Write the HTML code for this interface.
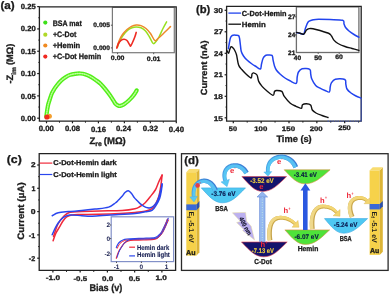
<!DOCTYPE html><html><head><meta charset="utf-8"><style>html,body{margin:0;padding:0;background:#fff;overflow:hidden}svg{display:block;will-change:transform}</style></head><body>
<svg width="390" height="295" viewBox="0 0 390 295" font-family="Liberation Sans, sans-serif" text-rendering="geometricPrecision">
<rect width="390" height="295" fill="#fff"/>
<rect x="112.4" y="7.4" width="61.9" height="45.3" fill="#fff" stroke="#7a7a7a" stroke-width="1.2"/>
<path d="M39.4,6.8 H176.2 V121.2 H39.4 Z" fill="none" stroke="#222" stroke-width="1.3"/>
<line x1="37.20" y1="6.60" x2="39.40" y2="6.60" stroke="#1c1c1c" stroke-width="1.2" />
<line x1="38.30" y1="17.76" x2="39.40" y2="17.76" stroke="#1c1c1c" stroke-width="0.9" />
<line x1="37.20" y1="28.92" x2="39.40" y2="28.92" stroke="#1c1c1c" stroke-width="1.2" />
<line x1="38.30" y1="40.08" x2="39.40" y2="40.08" stroke="#1c1c1c" stroke-width="0.9" />
<line x1="37.20" y1="51.24" x2="39.40" y2="51.24" stroke="#1c1c1c" stroke-width="1.2" />
<line x1="38.30" y1="62.40" x2="39.40" y2="62.40" stroke="#1c1c1c" stroke-width="0.9" />
<line x1="37.20" y1="73.56" x2="39.40" y2="73.56" stroke="#1c1c1c" stroke-width="1.2" />
<line x1="38.30" y1="84.72" x2="39.40" y2="84.72" stroke="#1c1c1c" stroke-width="0.9" />
<line x1="37.20" y1="95.88" x2="39.40" y2="95.88" stroke="#1c1c1c" stroke-width="1.2" />
<line x1="38.30" y1="107.04" x2="39.40" y2="107.04" stroke="#1c1c1c" stroke-width="0.9" />
<line x1="37.20" y1="118.20" x2="39.40" y2="118.20" stroke="#1c1c1c" stroke-width="1.2" />
<line x1="46.50" y1="121.20" x2="46.50" y2="123.30" stroke="#1c1c1c" stroke-width="1.2" />
<line x1="59.48" y1="121.20" x2="59.48" y2="122.70" stroke="#1c1c1c" stroke-width="1" />
<line x1="72.46" y1="121.20" x2="72.46" y2="123.30" stroke="#1c1c1c" stroke-width="1.2" />
<line x1="85.44" y1="121.20" x2="85.44" y2="122.70" stroke="#1c1c1c" stroke-width="1" />
<line x1="98.42" y1="121.20" x2="98.42" y2="123.30" stroke="#1c1c1c" stroke-width="1.2" />
<line x1="111.40" y1="121.20" x2="111.40" y2="122.70" stroke="#1c1c1c" stroke-width="1" />
<line x1="124.38" y1="121.20" x2="124.38" y2="123.30" stroke="#1c1c1c" stroke-width="1.2" />
<line x1="137.36" y1="121.20" x2="137.36" y2="122.70" stroke="#1c1c1c" stroke-width="1" />
<line x1="150.34" y1="121.20" x2="150.34" y2="123.30" stroke="#1c1c1c" stroke-width="1.2" />
<line x1="163.32" y1="121.20" x2="163.32" y2="122.70" stroke="#1c1c1c" stroke-width="1" />
<line x1="176.30" y1="121.20" x2="176.30" y2="123.30" stroke="#1c1c1c" stroke-width="1.2" />
<text x="0.43" y="9.18" font-size="11.00" font-weight="bold" font-style="normal" fill="#1a1a1a" stroke="#1a1a1a" stroke-width="0.3" textLength="14.34" lengthAdjust="spacingAndGlyphs" >(a)</text>
<text x="20.79" y="8.65" font-size="7.45" font-weight="bold" font-style="normal" fill="#1a1a1a" stroke="#1a1a1a" stroke-width="0.3" textLength="14.94" lengthAdjust="spacingAndGlyphs" >0.25</text>
<text x="20.79" y="31.49" font-size="7.45" font-weight="bold" font-style="normal" fill="#1a1a1a" stroke="#1a1a1a" stroke-width="0.3" textLength="14.93" lengthAdjust="spacingAndGlyphs" >0.20</text>
<text x="20.79" y="53.90" font-size="7.45" font-weight="bold" font-style="normal" fill="#1a1a1a" stroke="#1a1a1a" stroke-width="0.3" textLength="14.94" lengthAdjust="spacingAndGlyphs" >0.15</text>
<text x="20.79" y="76.22" font-size="7.45" font-weight="bold" font-style="normal" fill="#1a1a1a" stroke="#1a1a1a" stroke-width="0.3" textLength="14.93" lengthAdjust="spacingAndGlyphs" >0.10</text>
<text x="20.79" y="98.72" font-size="7.45" font-weight="bold" font-style="normal" fill="#1a1a1a" stroke="#1a1a1a" stroke-width="0.3" textLength="14.94" lengthAdjust="spacingAndGlyphs" >0.05</text>
<text x="20.79" y="120.86" font-size="7.45" font-weight="bold" font-style="normal" fill="#1a1a1a" stroke="#1a1a1a" stroke-width="0.3" textLength="14.93" lengthAdjust="spacingAndGlyphs" >0.00</text>
<text x="38.82" y="131.43" font-size="7.50" font-weight="bold" font-style="normal" fill="#1a1a1a" stroke="#1a1a1a" stroke-width="0.3" textLength="15.08" lengthAdjust="spacingAndGlyphs" >0.00</text>
<text x="64.99" y="131.46" font-size="7.50" font-weight="bold" font-style="normal" fill="#1a1a1a" stroke="#1a1a1a" stroke-width="0.3" textLength="15.00" lengthAdjust="spacingAndGlyphs" >0.08</text>
<text x="90.92" y="131.80" font-size="7.50" font-weight="bold" font-style="normal" fill="#1a1a1a" stroke="#1a1a1a" stroke-width="0.3" textLength="15.03" lengthAdjust="spacingAndGlyphs" >0.16</text>
<text x="115.99" y="131.37" font-size="7.50" font-weight="bold" font-style="normal" fill="#1a1a1a" stroke="#1a1a1a" stroke-width="0.3" textLength="15.06" lengthAdjust="spacingAndGlyphs" >0.24</text>
<text x="142.81" y="131.47" font-size="7.50" font-weight="bold" font-style="normal" fill="#1a1a1a" stroke="#1a1a1a" stroke-width="0.3" textLength="15.24" lengthAdjust="spacingAndGlyphs" >0.32</text>
<text x="168.88" y="131.83" font-size="7.50" font-weight="bold" font-style="normal" fill="#1a1a1a" stroke="#1a1a1a" stroke-width="0.3" textLength="15.11" lengthAdjust="spacingAndGlyphs" >0.40</text>
<text x="52.64" y="25.62" font-size="7.85" font-weight="bold" font-style="normal" fill="#1a1a1a" stroke="#1a1a1a" stroke-width="0.3" textLength="29.16" lengthAdjust="spacingAndGlyphs" >BSA mat</text>
<text x="52.91" y="36.62" font-size="7.85" font-weight="bold" font-style="normal" fill="#1a1a1a" stroke="#1a1a1a" stroke-width="0.3" textLength="23.54" lengthAdjust="spacingAndGlyphs" >+C-Dot</text>
<text x="52.70" y="48.11" font-size="7.85" font-weight="bold" font-style="normal" fill="#1a1a1a" stroke="#1a1a1a" stroke-width="0.3" textLength="27.56" lengthAdjust="spacingAndGlyphs" >+Hemin</text>
<text x="52.66" y="58.83" font-size="7.85" font-weight="bold" font-style="normal" fill="#1a1a1a" stroke="#1a1a1a" stroke-width="0.3" textLength="48.50" lengthAdjust="spacingAndGlyphs" >+C-Dot Hemin</text>
<text x="93.38" y="27.35" font-size="6.40" font-weight="bold" font-style="normal" fill="#222" stroke="#222" stroke-width="0.3" textLength="16.56" lengthAdjust="spacingAndGlyphs" >0.005</text>
<text x="93.38" y="49.81" font-size="6.40" font-weight="bold" font-style="normal" fill="#222" stroke="#222" stroke-width="0.3" textLength="16.58" lengthAdjust="spacingAndGlyphs" >0.000</text>
<text x="110.89" y="60.35" font-size="6.40" font-weight="bold" font-style="normal" fill="#1a1a1a" stroke="#1a1a1a" stroke-width="0.3" textLength="13.53" lengthAdjust="spacingAndGlyphs" >0.00</text>
<text x="146.89" y="60.55" font-size="6.40" font-weight="bold" font-style="normal" fill="#1a1a1a" stroke="#1a1a1a" stroke-width="0.3" textLength="13.61" lengthAdjust="spacingAndGlyphs" >0.01</text>
<text x="89.4" y="143.6" font-size="9.6" font-weight="bold" fill="#1c1c1c" stroke="#1c1c1c" stroke-width="0.3">Z<tspan font-size="6.8" dy="2.8">re</tspan><tspan dy="-2.8" dx="2.0">(MΩ)</tspan></text>
<text transform="translate(12.8,83.6) rotate(-90)" font-size="9.3" font-weight="bold" fill="#1c1c1c" stroke="#1c1c1c" stroke-width="0.3">-Z<tspan font-size="6.6" dy="2.8">im</tspan><tspan dy="-2.8" dx="2.0">(MΩ)</tspan></text>
<circle cx="45.3" cy="22.6" r="2.1" fill="#3ee01a"/>
<circle cx="45.3" cy="34.7" r="2.1" fill="#b0d828"/>
<circle cx="45.3" cy="45.5" r="2.1" fill="#f08a20"/>
<circle cx="45.3" cy="56.6" r="2.1" fill="#f02820"/>
<path d="M46.30,116.50 C46.45,115.42 46.88,112.00 47.20,110.00 C47.52,108.00 47.80,106.17 48.20,104.50 C48.60,102.83 49.00,101.83 49.60,100.00 C50.20,98.17 51.02,95.33 51.80,93.50 C52.58,91.67 53.40,90.42 54.30,89.00 C55.20,87.58 56.08,86.37 57.20,85.00 C58.32,83.63 59.62,82.08 61.00,80.80 C62.38,79.52 64.00,78.28 65.50,77.30 C67.00,76.32 68.42,75.48 70.00,74.90 C71.58,74.32 73.28,74.03 75.00,73.80 C76.72,73.57 78.55,73.40 80.30,73.50 C82.05,73.60 83.80,73.88 85.50,74.40 C87.20,74.92 88.78,75.65 90.50,76.60 C92.22,77.55 94.13,78.90 95.80,80.10 C97.47,81.30 98.88,82.25 100.50,83.80 C102.12,85.35 103.92,87.48 105.50,89.40 C107.08,91.32 108.67,93.43 110.00,95.30 C111.33,97.17 112.53,99.13 113.50,100.60 C114.47,102.07 114.93,103.22 115.80,104.10 C116.67,104.98 117.75,105.67 118.70,105.90 C119.65,106.13 120.48,105.85 121.50,105.50 C122.52,105.15 123.63,104.58 124.80,103.80 C125.97,103.02 127.37,101.82 128.50,100.80 C129.63,99.78 130.60,98.83 131.60,97.70 C132.60,96.57 133.65,95.22 134.50,94.00 C135.35,92.78 136.33,91.00 136.70,90.40" stroke="#52ee18" stroke-width="4.2" fill="none" stroke-linejoin="round" stroke-linecap="round" />
<path d="M46.30,116.50 C46.45,115.42 46.88,112.00 47.20,110.00 C47.52,108.00 47.80,106.17 48.20,104.50 C48.60,102.83 49.00,101.83 49.60,100.00 C50.20,98.17 51.02,95.33 51.80,93.50 C52.58,91.67 53.40,90.42 54.30,89.00 C55.20,87.58 56.08,86.37 57.20,85.00 C58.32,83.63 59.62,82.08 61.00,80.80 C62.38,79.52 64.00,78.28 65.50,77.30 C67.00,76.32 68.42,75.48 70.00,74.90 C71.58,74.32 73.28,74.03 75.00,73.80 C76.72,73.57 78.55,73.40 80.30,73.50 C82.05,73.60 83.80,73.88 85.50,74.40 C87.20,74.92 88.78,75.65 90.50,76.60 C92.22,77.55 94.13,78.90 95.80,80.10 C97.47,81.30 98.88,82.25 100.50,83.80 C102.12,85.35 103.92,87.48 105.50,89.40 C107.08,91.32 108.67,93.43 110.00,95.30 C111.33,97.17 112.53,99.13 113.50,100.60 C114.47,102.07 114.93,103.22 115.80,104.10 C116.67,104.98 117.75,105.67 118.70,105.90 C119.65,106.13 120.48,105.85 121.50,105.50 C122.52,105.15 123.63,104.58 124.80,103.80 C125.97,103.02 127.37,101.82 128.50,100.80 C129.63,99.78 130.60,98.83 131.60,97.70 C132.60,96.57 133.65,95.22 134.50,94.00 C135.35,92.78 136.33,91.00 136.70,90.40" stroke="#c0ffa0" stroke-width="1.4" fill="none" stroke-linejoin="round" stroke-linecap="round" stroke-dasharray="1.0,1.3"/>
<circle cx="49.4" cy="116.2" r="2.5" fill="#f4a030"/>
<circle cx="46.9" cy="117.0" r="2.6" fill="#ee2a1c"/>
<line x1="110.90" y1="25.20" x2="112.40" y2="25.20" stroke="#555" stroke-width="1" />
<line x1="110.90" y1="47.90" x2="112.40" y2="47.90" stroke="#555" stroke-width="1" />
<line x1="117.60" y1="52.70" x2="117.60" y2="54.20" stroke="#555" stroke-width="1" />
<line x1="153.70" y1="52.70" x2="153.70" y2="54.20" stroke="#555" stroke-width="1" />
<path d="M117.50,47.00 C117.83,46.08 118.58,43.42 119.50,41.50 C120.42,39.58 121.67,37.33 123.00,35.50 C124.33,33.67 126.00,31.78 127.50,30.50 C129.00,29.22 130.55,28.38 132.00,27.80 C133.45,27.22 134.70,27.00 136.20,27.00 C137.70,27.00 139.45,27.13 141.00,27.80 C142.55,28.47 144.08,29.47 145.50,31.00 C146.92,32.53 148.22,34.92 149.50,37.00 C150.78,39.08 152.12,42.75 153.20,43.50 C154.28,44.25 155.03,42.58 156.00,41.50 C156.97,40.42 157.83,39.17 159.00,37.00 C160.17,34.83 161.73,31.03 163.00,28.50 C164.27,25.97 166.00,22.92 166.60,21.80" stroke="#98e020" stroke-width="1.5" fill="none" stroke-linejoin="round" stroke-linecap="round" />
<path d="M117.00,47.50 C117.33,46.42 118.08,43.17 119.00,41.00 C119.92,38.83 121.17,36.42 122.50,34.50 C123.83,32.58 125.50,30.87 127.00,29.50 C128.50,28.13 129.97,27.05 131.50,26.30 C133.03,25.55 134.62,25.12 136.20,25.00 C137.78,24.88 139.37,25.02 141.00,25.60 C142.63,26.18 144.42,27.18 146.00,28.50 C147.58,29.82 149.03,31.50 150.50,33.50 C151.97,35.50 153.55,39.67 154.80,40.50 C156.05,41.33 156.63,39.58 158.00,38.50 C159.37,37.42 160.92,35.98 163.00,34.00 C165.08,32.02 169.25,27.83 170.50,26.60" stroke="#ec8a2a" stroke-width="1.5" fill="none" stroke-linejoin="round" stroke-linecap="round" />
<path d="M116.80,48.10 C117.08,47.33 117.80,44.80 118.50,43.50 C119.20,42.20 120.07,41.02 121.00,40.30 C121.93,39.58 123.10,39.17 124.10,39.20 C125.10,39.23 126.10,39.62 127.00,40.50 C127.90,41.38 128.90,43.58 129.50,44.50 C130.10,45.42 130.10,46.33 130.60,46.00 C131.10,45.67 131.80,44.00 132.50,42.50 C133.20,41.00 134.18,38.68 134.80,37.00 C135.42,35.32 135.97,33.17 136.20,32.40" stroke="#ee2a22" stroke-width="1.6" fill="none" stroke-linejoin="round" stroke-linecap="round" />
<rect x="296.4" y="6.9" width="62.5" height="45.6" fill="#fff" stroke="#6e6e6e" stroke-width="1.3"/>
<path d="M226.6,6.4 H361.2 V121.1 H226.6 Z" fill="none" stroke="#222" stroke-width="1.3"/>
<line x1="224.60" y1="10.30" x2="226.60" y2="10.30" stroke="#1c1c1c" stroke-width="1.2" />
<line x1="225.50" y1="21.05" x2="226.60" y2="21.05" stroke="#1c1c1c" stroke-width="0.9" />
<line x1="224.60" y1="31.80" x2="226.60" y2="31.80" stroke="#1c1c1c" stroke-width="1.2" />
<line x1="225.50" y1="42.55" x2="226.60" y2="42.55" stroke="#1c1c1c" stroke-width="0.9" />
<line x1="224.60" y1="53.30" x2="226.60" y2="53.30" stroke="#1c1c1c" stroke-width="1.2" />
<line x1="225.50" y1="64.05" x2="226.60" y2="64.05" stroke="#1c1c1c" stroke-width="0.9" />
<line x1="224.60" y1="74.80" x2="226.60" y2="74.80" stroke="#1c1c1c" stroke-width="1.2" />
<line x1="225.50" y1="85.55" x2="226.60" y2="85.55" stroke="#1c1c1c" stroke-width="0.9" />
<line x1="224.60" y1="96.30" x2="226.60" y2="96.30" stroke="#1c1c1c" stroke-width="1.2" />
<line x1="225.50" y1="107.05" x2="226.60" y2="107.05" stroke="#1c1c1c" stroke-width="0.9" />
<line x1="224.60" y1="117.80" x2="226.60" y2="117.80" stroke="#1c1c1c" stroke-width="1.2" />
<line x1="233.30" y1="121.10" x2="233.30" y2="123.20" stroke="#1c1c1c" stroke-width="1.2" />
<line x1="247.20" y1="121.10" x2="247.20" y2="122.60" stroke="#1c1c1c" stroke-width="1" />
<line x1="261.15" y1="121.10" x2="261.15" y2="123.20" stroke="#1c1c1c" stroke-width="1.2" />
<line x1="275.05" y1="121.10" x2="275.05" y2="122.60" stroke="#1c1c1c" stroke-width="1" />
<line x1="289.00" y1="121.10" x2="289.00" y2="123.20" stroke="#1c1c1c" stroke-width="1.2" />
<line x1="302.90" y1="121.10" x2="302.90" y2="122.60" stroke="#1c1c1c" stroke-width="1" />
<line x1="316.85" y1="121.10" x2="316.85" y2="123.20" stroke="#1c1c1c" stroke-width="1.2" />
<line x1="330.75" y1="121.10" x2="330.75" y2="122.60" stroke="#1c1c1c" stroke-width="1" />
<line x1="344.70" y1="121.10" x2="344.70" y2="123.20" stroke="#1c1c1c" stroke-width="1.2" />
<line x1="358.60" y1="121.10" x2="358.60" y2="122.60" stroke="#1c1c1c" stroke-width="1" />
<text x="195.98" y="13.27" font-size="11.00" font-weight="bold" font-style="normal" fill="#1a1a1a" stroke="#1a1a1a" stroke-width="0.3" textLength="14.35" lengthAdjust="spacingAndGlyphs" >(b)</text>
<text x="213.81" y="13.05" font-size="7.10" font-weight="bold" font-style="normal" fill="#1a1a1a" stroke="#1a1a1a" stroke-width="0.3" textLength="9.14" lengthAdjust="spacingAndGlyphs" >30</text>
<text x="213.99" y="34.25" font-size="7.10" font-weight="bold" font-style="normal" fill="#1a1a1a" stroke="#1a1a1a" stroke-width="0.3" textLength="9.00" lengthAdjust="spacingAndGlyphs" >27</text>
<text x="214.07" y="55.82" font-size="7.10" font-weight="bold" font-style="normal" fill="#1a1a1a" stroke="#1a1a1a" stroke-width="0.3" textLength="8.65" lengthAdjust="spacingAndGlyphs" >24</text>
<text x="214.11" y="77.23" font-size="7.10" font-weight="bold" font-style="normal" fill="#1a1a1a" stroke="#1a1a1a" stroke-width="0.3" textLength="8.76" lengthAdjust="spacingAndGlyphs" >21</text>
<text x="213.73" y="98.77" font-size="7.10" font-weight="bold" font-style="normal" fill="#1a1a1a" stroke="#1a1a1a" stroke-width="0.3" textLength="9.18" lengthAdjust="spacingAndGlyphs" >18</text>
<text x="213.73" y="120.53" font-size="7.10" font-weight="bold" font-style="normal" fill="#1a1a1a" stroke="#1a1a1a" stroke-width="0.3" textLength="9.16" lengthAdjust="spacingAndGlyphs" >15</text>
<text x="228.85" y="130.83" font-size="6.60" font-weight="bold" font-style="normal" fill="#1a1a1a" stroke="#1a1a1a" stroke-width="0.3" textLength="8.20" lengthAdjust="spacingAndGlyphs" >50</text>
<text x="254.19" y="130.77" font-size="6.60" font-weight="bold" font-style="normal" fill="#1a1a1a" stroke="#1a1a1a" stroke-width="0.3" textLength="13.05" lengthAdjust="spacingAndGlyphs" >100</text>
<text x="281.86" y="130.55" font-size="6.60" font-weight="bold" font-style="normal" fill="#1a1a1a" stroke="#1a1a1a" stroke-width="0.3" textLength="13.20" lengthAdjust="spacingAndGlyphs" >150</text>
<text x="309.68" y="130.55" font-size="6.60" font-weight="bold" font-style="normal" fill="#1a1a1a" stroke="#1a1a1a" stroke-width="0.3" textLength="12.99" lengthAdjust="spacingAndGlyphs" >200</text>
<text x="338.20" y="130.44" font-size="6.60" font-weight="bold" font-style="normal" fill="#1a1a1a" stroke="#1a1a1a" stroke-width="0.3" textLength="12.67" lengthAdjust="spacingAndGlyphs" >250</text>
<text x="241.84" y="15.79" font-size="7.40" font-weight="bold" font-style="normal" fill="#1a1a1a" stroke="#1a1a1a" stroke-width="0.3" textLength="44.73" lengthAdjust="spacingAndGlyphs" >C-Dot-Hemin</text>
<text x="241.78" y="26.65" font-size="7.40" font-weight="bold" font-style="normal" fill="#1a1a1a" stroke="#1a1a1a" stroke-width="0.3" textLength="23.97" lengthAdjust="spacingAndGlyphs" >Hemin</text>
<text x="288.09" y="19.21" font-size="6.40" font-weight="bold" font-style="normal" fill="#1a1a1a" stroke="#1a1a1a" stroke-width="0.3" textLength="7.47" lengthAdjust="spacingAndGlyphs" >27</text>
<text x="288.11" y="37.33" font-size="6.40" font-weight="bold" font-style="normal" fill="#1a1a1a" stroke="#1a1a1a" stroke-width="0.3" textLength="7.09" lengthAdjust="spacingAndGlyphs" >24</text>
<text x="288.09" y="54.55" font-size="6.40" font-weight="bold" font-style="normal" fill="#1a1a1a" stroke="#1a1a1a" stroke-width="0.3" textLength="7.20" lengthAdjust="spacingAndGlyphs" >21</text>
<text x="293.86" y="59.64" font-size="6.40" font-weight="bold" font-style="normal" fill="#1a1a1a" stroke="#1a1a1a" stroke-width="0.3" textLength="7.31" lengthAdjust="spacingAndGlyphs" >40</text>
<text x="314.19" y="59.86" font-size="6.40" font-weight="bold" font-style="normal" fill="#1a1a1a" stroke="#1a1a1a" stroke-width="0.3" textLength="7.86" lengthAdjust="spacingAndGlyphs" >50</text>
<text x="335.25" y="59.43" font-size="6.40" font-weight="bold" font-style="normal" fill="#1a1a1a" stroke="#1a1a1a" stroke-width="0.3" textLength="7.62" lengthAdjust="spacingAndGlyphs" >60</text>
<text x="276.4" y="142.3" font-size="9.3" font-weight="bold" fill="#1c1c1c" stroke="#1c1c1c" stroke-width="0.3" textLength="35.3" lengthAdjust="spacingAndGlyphs">Time (s)</text>
<text transform="translate(207.4,95.3) rotate(-90)" font-size="8.9" font-weight="bold" fill="#1c1c1c" stroke="#1c1c1c" stroke-width="0.3" textLength="54.8" lengthAdjust="spacingAndGlyphs">Current (nA)</text>
<line x1="228.40" y1="13.10" x2="241.00" y2="13.10" stroke="#2244ee" stroke-width="1.3" />
<line x1="228.40" y1="24.20" x2="241.00" y2="24.20" stroke="#111" stroke-width="1.3" />
<path d="M228.40,48.70 C228.58,47.58 229.17,43.80 229.50,42.00 C229.83,40.20 230.05,38.90 230.40,37.90 C230.75,36.90 231.15,36.45 231.60,36.00 C232.05,35.55 232.37,35.33 233.10,35.20 C233.83,35.07 235.08,35.13 236.00,35.20 C236.92,35.27 238.00,35.03 238.60,35.60 C239.20,36.17 239.30,37.03 239.60,38.60 C239.90,40.17 240.12,42.85 240.40,45.00 C240.68,47.15 240.78,49.67 241.30,51.50 C241.82,53.33 242.55,54.58 243.50,56.00 C244.45,57.42 245.58,58.67 247.00,60.00 C248.42,61.33 250.50,62.92 252.00,64.00 C253.50,65.08 254.60,65.67 256.00,66.50 C257.40,67.33 259.48,69.42 260.40,69.00 C261.32,68.58 261.07,65.75 261.50,64.00 C261.93,62.25 262.42,59.87 263.00,58.50 C263.58,57.13 264.30,56.37 265.00,55.80 C265.70,55.23 266.03,55.17 267.20,55.10 C268.37,55.03 271.02,54.55 272.00,55.40 C272.98,56.25 272.68,58.43 273.10,60.20 C273.52,61.97 273.93,64.32 274.50,66.00 C275.07,67.68 275.58,68.97 276.50,70.30 C277.42,71.63 278.58,72.72 280.00,74.00 C281.42,75.28 283.33,76.87 285.00,78.00 C286.67,79.13 288.13,79.90 290.00,80.80 C291.87,81.70 295.00,84.03 296.20,83.40 C297.40,82.77 296.82,78.90 297.20,77.00 C297.58,75.10 297.68,73.37 298.50,72.00 C299.32,70.63 300.23,69.25 302.10,68.80 C303.97,68.35 308.27,68.43 309.70,69.30 C311.13,70.17 310.35,72.38 310.70,74.00 C311.05,75.62 310.97,77.08 311.80,79.00 C312.63,80.92 314.33,83.97 315.70,85.50 C317.07,87.03 318.45,87.37 320.00,88.20 C321.55,89.03 323.43,89.87 325.00,90.50 C326.57,91.13 328.53,92.58 329.40,92.00 C330.27,91.42 329.87,88.53 330.20,87.00 C330.53,85.47 330.55,84.10 331.40,82.80 C332.25,81.50 333.07,79.75 335.30,79.20 C337.53,78.65 343.05,78.70 344.80,79.50 C346.55,80.30 345.43,82.42 345.80,84.00 C346.17,85.58 346.13,87.50 347.00,89.00 C347.87,90.50 349.50,91.83 351.00,93.00 C352.50,94.17 354.37,95.17 356.00,96.00 C357.63,96.83 360.00,97.67 360.80,98.00" stroke="#2244ee" stroke-width="1.5" fill="none" stroke-linejoin="round" stroke-linecap="round" />
<path d="M226.60,50.00 C226.92,50.55 228.00,53.30 228.50,53.30 C229.00,53.30 229.17,51.10 229.60,50.00 C230.03,48.90 230.53,47.03 231.10,46.70 C231.67,46.37 232.43,47.45 233.00,48.00 C233.57,48.55 233.92,48.87 234.50,50.00 C235.08,51.13 235.82,52.30 236.50,54.80 C237.18,57.30 237.72,62.55 238.60,65.00 C239.48,67.45 240.57,68.00 241.80,69.50 C243.03,71.00 244.45,72.58 246.00,74.00 C247.55,75.42 250.10,78.00 251.10,78.00 C252.10,78.00 251.58,74.85 252.00,74.00 C252.42,73.15 252.77,72.73 253.60,72.90 C254.43,73.07 256.15,73.58 257.00,75.00 C257.85,76.42 257.85,79.50 258.70,81.40 C259.55,83.30 260.72,84.80 262.10,86.40 C263.48,88.00 265.17,89.50 267.00,91.00 C268.83,92.50 271.85,95.32 273.10,95.40 C274.35,95.48 273.93,92.32 274.50,91.50 C275.07,90.68 275.28,90.52 276.50,90.50 C277.72,90.48 280.50,90.42 281.80,91.40 C283.10,92.38 282.88,94.43 284.30,96.40 C285.72,98.37 288.35,101.55 290.30,103.20 C292.25,104.85 294.17,105.45 296.00,106.30 C297.83,107.15 300.22,108.55 301.30,108.30 C302.38,108.05 301.65,105.57 302.50,104.80 C303.35,104.03 305.05,103.68 306.40,103.70 C307.75,103.72 309.62,103.85 310.60,104.90 C311.58,105.95 311.40,108.65 312.30,110.00 C313.20,111.35 314.38,112.08 316.00,113.00 C317.62,113.92 320.00,114.75 322.00,115.50 C324.00,116.25 327.00,117.17 328.00,117.50" stroke="#111" stroke-width="1.4" fill="none" stroke-linejoin="round" stroke-linecap="round" />
<line x1="361.20" y1="98.00" x2="361.20" y2="121.10" stroke="#3a58e0" stroke-width="0.9" opacity="0.8"/>
<line x1="327.50" y1="121.10" x2="361.20" y2="121.10" stroke="#3a58e0" stroke-width="0.9" stroke-dasharray="1.5,1" opacity="0.8"/>
<line x1="295.00" y1="16.80" x2="296.40" y2="16.80" stroke="#555" stroke-width="1" />
<line x1="295.00" y1="34.80" x2="296.40" y2="34.80" stroke="#555" stroke-width="1" />
<line x1="318.20" y1="52.50" x2="318.20" y2="53.90" stroke="#555" stroke-width="1" />
<line x1="339.20" y1="52.50" x2="339.20" y2="53.90" stroke="#555" stroke-width="1" />
<path d="M296.50,32.40 C297.08,32.53 298.80,32.92 300.00,33.20 C301.20,33.48 302.78,34.97 303.70,34.10 C304.62,33.23 304.77,30.02 305.50,28.00 C306.23,25.98 307.10,23.30 308.10,22.00 C309.10,20.70 310.22,20.63 311.50,20.20 C312.78,19.77 312.72,19.50 315.80,19.40 C318.88,19.30 325.52,19.45 330.00,19.60 C334.48,19.75 340.37,19.57 342.70,20.30 C345.03,21.03 343.52,22.80 344.00,24.00 C344.48,25.20 344.77,26.33 345.60,27.50 C346.43,28.67 347.60,29.83 349.00,31.00 C350.40,32.17 352.35,33.47 354.00,34.50 C355.65,35.53 358.08,36.75 358.90,37.20" stroke="#2244ee" stroke-width="1.5" fill="none" stroke-linejoin="round" stroke-linecap="round" />
<path d="M296.50,32.40 C297.08,32.53 298.80,32.92 300.00,33.20 C301.20,33.48 302.62,34.63 303.70,34.10 C304.78,33.57 305.58,30.92 306.50,30.00 C307.42,29.08 308.12,28.82 309.20,28.60 C310.28,28.38 311.20,28.38 313.00,28.70 C314.80,29.02 317.33,29.70 320.00,30.50 C322.67,31.30 327.08,32.58 329.00,33.50 C330.92,34.42 330.68,34.90 331.50,36.00 C332.32,37.10 332.82,38.85 333.90,40.10 C334.98,41.35 336.15,42.43 338.00,43.50 C339.85,44.57 342.67,45.67 345.00,46.50 C347.33,47.33 349.68,47.85 352.00,48.50 C354.32,49.15 357.75,50.08 358.90,50.40" stroke="#111" stroke-width="1.4" fill="none" stroke-linejoin="round" stroke-linecap="round" />
<rect x="111.2" y="216.8" width="62.4" height="44.8" fill="#fff" stroke="#8290c8" stroke-width="1.2"/>
<path d="M39.2,153.7 H175.6 V270.4 H39.2 Z" fill="none" stroke="#222" stroke-width="1.3"/>
<line x1="37.20" y1="165.00" x2="39.20" y2="165.00" stroke="#1c1c1c" stroke-width="1.2" />
<line x1="38.10" y1="176.65" x2="39.20" y2="176.65" stroke="#1c1c1c" stroke-width="0.9" />
<line x1="37.20" y1="188.30" x2="39.20" y2="188.30" stroke="#1c1c1c" stroke-width="1.2" />
<line x1="38.10" y1="199.95" x2="39.20" y2="199.95" stroke="#1c1c1c" stroke-width="0.9" />
<line x1="37.20" y1="211.60" x2="39.20" y2="211.60" stroke="#1c1c1c" stroke-width="1.2" />
<line x1="38.10" y1="223.25" x2="39.20" y2="223.25" stroke="#1c1c1c" stroke-width="0.9" />
<line x1="37.20" y1="234.90" x2="39.20" y2="234.90" stroke="#1c1c1c" stroke-width="1.2" />
<line x1="38.10" y1="246.55" x2="39.20" y2="246.55" stroke="#1c1c1c" stroke-width="0.9" />
<line x1="37.20" y1="258.20" x2="39.20" y2="258.20" stroke="#1c1c1c" stroke-width="1.2" />
<line x1="52.90" y1="270.40" x2="52.90" y2="272.50" stroke="#1c1c1c" stroke-width="1.2" />
<line x1="66.50" y1="270.40" x2="66.50" y2="271.90" stroke="#1c1c1c" stroke-width="1" />
<line x1="80.15" y1="270.40" x2="80.15" y2="272.50" stroke="#1c1c1c" stroke-width="1.2" />
<line x1="93.75" y1="270.40" x2="93.75" y2="271.90" stroke="#1c1c1c" stroke-width="1" />
<line x1="107.40" y1="270.40" x2="107.40" y2="272.50" stroke="#1c1c1c" stroke-width="1.2" />
<line x1="121.00" y1="270.40" x2="121.00" y2="271.90" stroke="#1c1c1c" stroke-width="1" />
<line x1="134.65" y1="270.40" x2="134.65" y2="272.50" stroke="#1c1c1c" stroke-width="1.2" />
<line x1="148.25" y1="270.40" x2="148.25" y2="271.90" stroke="#1c1c1c" stroke-width="1" />
<line x1="161.90" y1="270.40" x2="161.90" y2="272.50" stroke="#1c1c1c" stroke-width="1.2" />
<text x="6.81" y="162.61" font-size="11.00" font-weight="bold" font-style="normal" fill="#1a1a1a" stroke="#1a1a1a" stroke-width="0.3" textLength="14.98" lengthAdjust="spacingAndGlyphs" >(c)</text>
<text x="30.93" y="167.35" font-size="7.10" font-weight="bold" font-style="normal" fill="#1a1a1a" stroke="#1a1a1a" stroke-width="0.3" textLength="4.59" lengthAdjust="spacingAndGlyphs" >2</text>
<text x="31.59" y="190.57" font-size="7.10" font-weight="bold" font-style="normal" fill="#1a1a1a" stroke="#1a1a1a" stroke-width="0.3" textLength="3.94" lengthAdjust="spacingAndGlyphs" >1</text>
<text x="30.83" y="213.54" font-size="7.10" font-weight="bold" font-style="normal" fill="#1a1a1a" stroke="#1a1a1a" stroke-width="0.3" textLength="4.77" lengthAdjust="spacingAndGlyphs" >0</text>
<text x="28.83" y="238.38" font-size="7.10" font-weight="bold" font-style="normal" fill="#1a1a1a" stroke="#1a1a1a" stroke-width="0.3" textLength="6.37" lengthAdjust="spacingAndGlyphs" >-1</text>
<text x="28.83" y="260.75" font-size="7.10" font-weight="bold" font-style="normal" fill="#1a1a1a" stroke="#1a1a1a" stroke-width="0.3" textLength="6.41" lengthAdjust="spacingAndGlyphs" >-2</text>
<text x="45.78" y="280.39" font-size="6.70" font-weight="bold" font-style="normal" fill="#1a1a1a" stroke="#1a1a1a" stroke-width="0.3" textLength="14.29" lengthAdjust="spacingAndGlyphs" >-1.0</text>
<text x="73.42" y="280.86" font-size="6.70" font-weight="bold" font-style="normal" fill="#1a1a1a" stroke="#1a1a1a" stroke-width="0.3" textLength="13.64" lengthAdjust="spacingAndGlyphs" >-0.5</text>
<text x="101.98" y="280.77" font-size="6.70" font-weight="bold" font-style="normal" fill="#1a1a1a" stroke="#1a1a1a" stroke-width="0.3" textLength="11.13" lengthAdjust="spacingAndGlyphs" >0.0</text>
<text x="128.85" y="280.66" font-size="6.70" font-weight="bold" font-style="normal" fill="#1a1a1a" stroke="#1a1a1a" stroke-width="0.3" textLength="11.19" lengthAdjust="spacingAndGlyphs" >0.5</text>
<text x="155.50" y="280.38" font-size="6.70" font-weight="bold" font-style="normal" fill="#1a1a1a" stroke="#1a1a1a" stroke-width="0.3" textLength="11.42" lengthAdjust="spacingAndGlyphs" >1.0</text>
<text x="53.34" y="165.31" font-size="7.10" font-weight="bold" font-style="normal" fill="#1a1a1a" stroke="#1a1a1a" stroke-width="0.3" textLength="63.45" lengthAdjust="spacingAndGlyphs" >C-Dot-Hemin dark</text>
<text x="53.34" y="177.27" font-size="7.10" font-weight="bold" font-style="normal" fill="#1a1a1a" stroke="#1a1a1a" stroke-width="0.3" textLength="63.51" lengthAdjust="spacingAndGlyphs" >C-Dot-Hemin light</text>
<text x="137.10" y="249.74" font-size="7.00" font-weight="bold" font-style="normal" fill="#141c50" stroke="#141c50" stroke-width="0.12" textLength="32.07" lengthAdjust="spacingAndGlyphs" >Hemin dark</text>
<text x="137.09" y="257.48" font-size="7.00" font-weight="bold" font-style="normal" fill="#141c50" stroke="#141c50" stroke-width="0.12" textLength="32.81" lengthAdjust="spacingAndGlyphs" >Hemin light</text>
<text x="89.4" y="291.0" font-size="9.9" font-weight="bold" fill="#1c1c1c" stroke="#1c1c1c" stroke-width="0.3" textLength="33" lengthAdjust="spacingAndGlyphs">Bias (v)</text>
<text transform="translate(23.5,239.8) rotate(-90)" font-size="9.3" font-weight="bold" fill="#1c1c1c" stroke="#1c1c1c" stroke-width="0.3" textLength="57.7" lengthAdjust="spacingAndGlyphs">Current (μA)</text>
<line x1="39.80" y1="163.10" x2="52.30" y2="163.10" stroke="#f02a3a" stroke-width="1.2" />
<line x1="39.80" y1="174.50" x2="52.30" y2="174.50" stroke="#2a46ee" stroke-width="1.2" />
<path d="M53.10,240.80 C53.58,239.50 54.87,235.40 56.00,233.00 C57.13,230.60 58.73,228.40 59.90,226.40 C61.07,224.40 61.88,222.57 63.00,221.00 C64.12,219.43 65.15,218.00 66.60,217.00 C68.05,216.00 69.47,215.42 71.70,215.00 C73.93,214.58 75.62,214.63 80.00,214.50 C84.38,214.37 91.33,214.38 98.00,214.20 C104.67,214.02 113.83,213.70 120.00,213.40 C126.17,213.10 130.83,212.77 135.00,212.40 C139.17,212.03 142.17,211.82 145.00,211.20 C147.83,210.58 150.17,210.07 152.00,208.70 C153.83,207.33 154.88,204.98 156.00,203.00 C157.12,201.02 157.90,199.63 158.70,196.80 C159.50,193.97 160.23,189.62 160.80,186.00 C161.37,182.38 161.88,176.92 162.10,175.10" stroke="#f0283a" stroke-width="1.5" fill="none" stroke-linejoin="round" stroke-linecap="round" />
<path d="M162.10,175.10 C161.50,176.33 159.63,180.02 158.50,182.50 C157.37,184.98 156.72,187.58 155.30,190.00 C153.88,192.42 151.68,194.88 150.00,197.00 C148.32,199.12 146.87,201.12 145.20,202.70 C143.53,204.28 141.70,205.50 140.00,206.50 C138.30,207.50 137.98,208.03 135.00,208.70 C132.02,209.37 127.93,210.12 122.10,210.50 C116.27,210.88 106.70,210.82 100.00,211.00 C93.30,211.18 86.90,211.40 81.90,211.60 C76.90,211.80 72.98,211.47 70.00,212.20 C67.02,212.93 66.00,214.03 64.00,216.00 C62.00,217.97 59.75,220.58 58.00,224.00 C56.25,227.42 54.25,234.42 53.50,236.50" stroke="#f0283a" stroke-width="1.5" fill="none" stroke-linejoin="round" stroke-linecap="round" />
<path d="M52.20,234.80 C52.67,233.75 54.00,230.47 55.00,228.50 C56.00,226.53 57.20,224.50 58.20,223.00 C59.20,221.50 60.02,220.50 61.00,219.50 C61.98,218.50 62.60,217.75 64.10,217.00 C65.60,216.25 67.03,215.22 70.00,215.00 C72.97,214.78 78.22,215.50 81.90,215.70 C85.58,215.90 87.42,216.32 92.10,216.20 C96.78,216.08 102.85,215.47 110.00,215.00 C117.15,214.53 129.17,213.93 135.00,213.40 C140.83,212.87 142.17,212.30 145.00,211.80 C147.83,211.30 150.08,211.62 152.00,210.40 C153.92,209.18 155.23,206.48 156.50,204.50 C157.77,202.52 158.80,200.75 159.60,198.50 C160.40,196.25 160.88,193.40 161.30,191.00 C161.72,188.60 161.97,185.25 162.10,184.10" stroke="#2a46ee" stroke-width="1.5" fill="none" stroke-linejoin="round" stroke-linecap="round" />
<path d="M162.10,184.10 C161.75,185.67 160.85,190.53 160.00,193.50 C159.15,196.47 158.08,199.82 157.00,201.90 C155.92,203.98 154.62,205.02 153.50,206.00 C152.38,206.98 151.27,207.50 150.30,207.80 C149.33,208.10 148.75,208.05 147.70,207.80 C146.65,207.55 145.27,207.00 144.00,206.30 C142.73,205.60 141.27,204.57 140.10,203.60 C138.93,202.63 137.97,201.50 137.00,200.50 C136.03,199.50 135.22,198.77 134.30,197.60 C133.38,196.43 132.52,194.63 131.50,193.50 C130.48,192.37 129.28,190.97 128.20,190.80 C127.12,190.63 126.02,191.58 125.00,192.50 C123.98,193.42 123.18,195.05 122.10,196.30 C121.02,197.55 119.63,198.88 118.50,200.00 C117.37,201.12 116.95,201.82 115.30,203.00 C113.65,204.18 111.98,206.08 108.60,207.10 C105.22,208.12 99.45,208.52 95.00,209.10 C90.55,209.68 86.35,210.18 81.90,210.60 C77.45,211.02 72.25,211.23 68.30,211.60 C64.35,211.97 60.88,212.12 58.20,212.80 C55.52,213.48 53.20,215.22 52.20,215.70" stroke="#2a46ee" stroke-width="1.5" fill="none" stroke-linejoin="round" stroke-linecap="round" />
<line x1="109.80" y1="225.00" x2="111.20" y2="225.00" stroke="#555" stroke-width="1" />
<line x1="109.80" y1="238.60" x2="111.20" y2="238.60" stroke="#555" stroke-width="1" />
<line x1="109.80" y1="254.00" x2="111.20" y2="254.00" stroke="#555" stroke-width="1" />
<line x1="116.50" y1="261.60" x2="116.50" y2="263.00" stroke="#555" stroke-width="1" />
<line x1="141.40" y1="261.60" x2="141.40" y2="263.00" stroke="#555" stroke-width="1" />
<line x1="166.50" y1="261.60" x2="166.50" y2="263.00" stroke="#555" stroke-width="1" />
<text x="106.6" y="227.4" font-size="6.4" font-weight="bold" fill="#1a2050">2</text>
<text x="106.6" y="241" font-size="6.4" font-weight="bold" fill="#1a2050">0</text>
<text x="104.4" y="256.4" font-size="6.4" font-weight="bold" fill="#1a2050">-2</text>
<text x="116.5" y="269" font-size="6.4" font-weight="bold" fill="#1a2050" text-anchor="middle">-1</text>
<text x="141.4" y="269" font-size="6.4" font-weight="bold" fill="#1a2050" text-anchor="middle">0</text>
<text x="166.5" y="269" font-size="6.4" font-weight="bold" fill="#1a2050" text-anchor="middle">1</text>
<path d="M116.30,247.50 C116.58,246.92 117.38,244.97 118.00,244.00 C118.62,243.03 119.17,242.37 120.00,241.70 C120.83,241.03 121.88,240.42 123.00,240.00 C124.12,239.58 124.70,239.43 126.70,239.20 C128.70,238.97 132.23,238.75 135.00,238.60 C137.77,238.45 139.97,238.48 143.30,238.30 C146.63,238.12 152.38,238.05 155.00,237.50 C157.62,236.95 157.88,235.97 159.00,235.00 C160.12,234.03 160.78,233.20 161.70,231.70 C162.62,230.20 163.53,228.08 164.50,226.00 C165.47,223.92 167.00,220.33 167.50,219.20" stroke="#2a46ee" stroke-width="1.2" fill="none" stroke-linejoin="round" stroke-linecap="round" />
<path d="M116.30,258.30 C116.67,257.25 117.60,253.93 118.50,252.00 C119.40,250.07 120.70,248.20 121.70,246.70 C122.70,245.20 123.40,243.98 124.50,243.00 C125.60,242.02 126.55,241.27 128.30,240.80 C130.05,240.33 132.50,240.33 135.00,240.20 C137.50,240.07 139.97,240.17 143.30,240.00 C146.63,239.83 152.22,239.95 155.00,239.20 C157.78,238.45 158.62,237.03 160.00,235.50 C161.38,233.97 162.38,231.75 163.30,230.00 C164.22,228.25 164.80,226.80 165.50,225.00 C166.20,223.20 167.17,220.17 167.50,219.20" stroke="#f0283a" stroke-width="1.2" fill="none" stroke-linejoin="round" stroke-linecap="round" />
<path d="M117.30,248.30 C117.58,247.72 118.38,245.77 119.00,244.80 C119.62,243.83 120.17,243.17 121.00,242.50 C121.83,241.83 122.88,241.22 124.00,240.80 C125.12,240.38 125.70,240.23 127.70,240.00 C129.70,239.77 133.23,239.55 136.00,239.40 C138.77,239.25 140.97,239.28 144.30,239.10 C147.63,238.92 153.38,238.85 156.00,238.30 C158.62,237.75 158.88,236.77 160.00,235.80 C161.12,234.83 161.78,234.00 162.70,232.50 C163.62,231.00 164.53,228.88 165.50,226.80 C166.47,224.72 168.00,221.13 168.50,220.00" stroke="#f0283a" stroke-width="1.0" fill="none" stroke-linejoin="round" stroke-linecap="round" />
<path d="M117.10,257.30 C117.47,256.25 118.40,252.93 119.30,251.00 C120.20,249.07 121.50,247.20 122.50,245.70 C123.50,244.20 124.20,242.98 125.30,242.00 C126.40,241.02 127.35,240.27 129.10,239.80 C130.85,239.33 133.30,239.33 135.80,239.20 C138.30,239.07 140.77,239.17 144.10,239.00 C147.43,238.83 153.02,238.95 155.80,238.20 C158.58,237.45 159.42,236.03 160.80,234.50 C162.18,232.97 163.18,230.75 164.10,229.00 C165.02,227.25 165.60,225.80 166.30,224.00 C167.00,222.20 167.97,219.17 168.30,218.20" stroke="#2a46ee" stroke-width="1.0" fill="none" stroke-linejoin="round" stroke-linecap="round" />
<line x1="129.20" y1="247.20" x2="135.00" y2="247.20" stroke="#f0283a" stroke-width="1.2" />
<line x1="129.20" y1="255.90" x2="135.00" y2="255.90" stroke="#2a46ee" stroke-width="1.2" />
<rect x="181.5" y="153.7" width="206.6" height="116.7" fill="#fff" stroke="#2a2a2a" stroke-width="1.3"/>
<text x="184.30" y="163.71" font-size="11.00" font-weight="bold" font-style="normal" fill="#1a1a1a" stroke="#1a1a1a" stroke-width="0.3" textLength="14.65" lengthAdjust="spacingAndGlyphs" >(d)</text>
<rect x="186.3" y="172.2" width="10.299999999999983" height="83.4" fill="#f6d24a"/>
<polygon points="196.6,172.2 199.4,168.89999999999998 199.4,252.29999999999998 196.6,255.6" fill="#dcb436"/>
<polygon points="186.3,172.2 189.10000000000002,168.89999999999998 199.4,168.89999999999998 196.6,172.2" fill="#f8dc70"/>
<rect x="186.3" y="204.4" width="10.299999999999983" height="5.799999999999983" fill="#3a68d8"/>
<polygon points="196.6,204.4 199.4,201.1 199.4,206.89999999999998 196.6,210.2" fill="#2a50b0"/>
<rect x="369.6" y="170.4" width="10.099999999999966" height="84.5" fill="#f6d24a"/>
<polygon points="379.7,170.4 382.8,167.3 382.8,251.8 379.7,254.9" fill="#dcb436"/>
<polygon points="369.6,170.4 372.70000000000005,167.3 382.8,167.3 379.7,170.4" fill="#f8dc70"/>
<rect x="369.6" y="204.0" width="10.099999999999966" height="5.400000000000006" fill="#3a68d8"/>
<polygon points="379.7,204.0 382.8,200.9 382.8,206.3 379.7,209.4" fill="#2a50b0"/>
<text transform="translate(188.7,211.6) rotate(90)" font-size="7" font-weight="bold" fill="#1c1c1c">E<tspan font-size="5" dy="1.2">f</tspan><tspan dy="-1.2" dx="2.2">-5.1 eV</tspan></text>
<text transform="translate(372.0,211.6) rotate(90)" font-size="7" font-weight="bold" fill="#1c1c1c">E<tspan font-size="5" dy="1.2">f</tspan><tspan dy="-1.2" dx="2.2">-5.1 eV</tspan></text>
<text x="186.11" y="254.57" font-size="7.20" font-weight="bold" font-style="normal" fill="#1a1a1a" stroke="#1a1a1a" stroke-width="0.3" textLength="9.43" lengthAdjust="spacingAndGlyphs" >Au</text>
<text x="369.96" y="253.30" font-size="7.20" font-weight="bold" font-style="normal" fill="#1a1a1a" stroke="#1a1a1a" stroke-width="0.3" textLength="9.27" lengthAdjust="spacingAndGlyphs" >Au</text>
<path d="M201.3,187.9 L245.5,187.9 C236.76,196.84 231.24,202.8 222.5,202.8 C214.44,202.8 209.36,196.84 201.3,187.9 Z" fill="#4ec8f2" stroke="#3aa8e0" stroke-width="0.6"/>
<path d="M324.5,218.6 L367.6,218.6 C358.52,227.36 352.78,233.2 343.7,233.2 C336.40,233.2 331.80,227.36 324.5,218.6 Z" fill="#4ec8f2" stroke="#3aa8e0" stroke-width="0.6"/>
<path d="M241.9,176.6 L286.6,176.6 C277.48,185.48 271.72,191.4 262.6,191.4 C254.73,191.4 249.77,185.48 241.9,176.6 Z" fill="#14136c" stroke="#e04050" stroke-width="0.6"/>
<path d="M241.5,242.0 L287.2,242.0 C278.27,250.88 272.63,256.8 263.7,256.8 C255.26,256.8 249.94,250.88 241.5,242.0 Z" fill="#14136c" stroke="#e04050" stroke-width="0.6"/>
<path d="M284.2,169.8 L330.1,169.8 C320.56,178.20 314.54,183.8 305.0,183.8 C297.10,183.8 292.10,178.20 284.2,169.8 Z" fill="#4ee23a" stroke="#d89040" stroke-width="0.6"/>
<path d="M284.9,229.9 L329.6,229.9 C320.40,238.60 314.60,244.4 305.4,244.4 C297.61,244.4 292.69,238.60 284.9,229.9 Z" fill="#4ee23a" stroke="#d89040" stroke-width="0.6"/>
<text x="211.37" y="195.79" font-size="6.75" font-weight="bold" font-style="normal" fill="#0a1a50" stroke="#0a1a50" stroke-width="0.12" textLength="24.16" lengthAdjust="spacingAndGlyphs" >-3.76 eV</text>
<text x="215.18" y="210.56" font-size="7.20" font-weight="bold" font-style="normal" fill="#1a1a1a" stroke="#1a1a1a" stroke-width="0.3" textLength="12.68" lengthAdjust="spacingAndGlyphs" >BSA</text>
<text x="250.30" y="183.09" font-size="6.75" font-weight="bold" font-style="normal" fill="#f0d040" stroke="#f0d040" stroke-width="0.12" textLength="23.46" lengthAdjust="spacingAndGlyphs" >-3.52 eV</text>
<text x="293.84" y="176.83" font-size="6.75" font-weight="bold" font-style="normal" fill="#0a1a40" stroke="#0a1a40" stroke-width="0.12" textLength="23.13" lengthAdjust="spacingAndGlyphs" >-3.41 eV</text>
<text x="294.45" y="239.37" font-size="6.75" font-weight="bold" font-style="normal" fill="#0a1a40" stroke="#0a1a40" stroke-width="0.12" textLength="24.23" lengthAdjust="spacingAndGlyphs" >-6.07 eV</text>
<text x="297.67" y="251.43" font-size="7.20" font-weight="bold" font-style="normal" fill="#1a1a1a" stroke="#1a1a1a" stroke-width="0.3" textLength="20.59" lengthAdjust="spacingAndGlyphs" >Hemin</text>
<text x="251.84" y="253.10" font-size="6.75" font-weight="bold" font-style="normal" fill="#f0d040" stroke="#f0d040" stroke-width="0.12" textLength="22.08" lengthAdjust="spacingAndGlyphs" >-7.13 eV</text>
<text x="254.37" y="264.49" font-size="7.20" font-weight="bold" font-style="normal" fill="#1a1a1a" stroke="#1a1a1a" stroke-width="0.3" textLength="17.42" lengthAdjust="spacingAndGlyphs" >C-Dot</text>
<text x="333.84" y="227.47" font-size="6.75" font-weight="bold" font-style="normal" fill="#0a1a50" stroke="#0a1a50" stroke-width="0.12" textLength="23.47" lengthAdjust="spacingAndGlyphs" >-5.24 eV</text>
<text x="339.64" y="240.89" font-size="7.20" font-weight="bold" font-style="normal" fill="#1a1a1a" stroke="#1a1a1a" stroke-width="0.3" textLength="12.11" lengthAdjust="spacingAndGlyphs" >BSA</text>
<rect x="259.6" y="196" width="5.4" height="45.5" fill="#94b8f0" stroke="#6a8cd8" stroke-width="0.6"/>
<line x1="262.3" y1="197" x2="262.3" y2="241" stroke="#c8f0e0" stroke-width="0.9" stroke-dasharray="0.9,1.6"/>
<polygon points="257.0,197 262.3,191.8 267.6,197" fill="#94b8f0" stroke="#6a8cd8" stroke-width="0.6"/>
<rect x="303.0" y="190" width="4.6" height="40" fill="#2a58e0"/>
<polygon points="300.5,190.5 305.4,183.2 310.3,190.5" fill="#2a58e0"/>
<polygon points="232.4,212.8 245.6,212.4 246.6,221.2 251.2,226.2 254.6,240.0 242.6,230.6 243.8,229.4 236.6,222.6 240.4,221.4" fill="#bcb0f0" stroke="#e8dca0" stroke-width="0.5"/>
<text transform="translate(238.9,218.6) rotate(62)" font-size="6.4" font-weight="bold" fill="#14142a" stroke="#14142a" stroke-width="0.15" textLength="19.5" lengthAdjust="spacingAndGlyphs">400 nm</text>
<defs><linearGradient id="ao1" gradientUnits="userSpaceOnUse" x1="216" y1="186" x2="194" y2="200"><stop offset="0" stop-color="#3a7cd4"/><stop offset="1" stop-color="#4aa8e8"/></linearGradient><linearGradient id="ai1" gradientUnits="userSpaceOnUse" x1="216" y1="186" x2="194" y2="200"><stop offset="0" stop-color="#58c0f2"/><stop offset="1" stop-color="#56c8f4"/></linearGradient></defs>
<polygon points="217.84,189.61 217.41,188.53 216.91,187.44 216.38,186.43 215.81,185.47 215.20,184.57 214.56,183.74 213.89,182.96 213.18,182.25 212.45,181.61 211.70,181.02 210.92,180.50 210.12,180.04 209.31,179.64 208.49,179.31 207.66,179.04 206.82,178.83 205.99,178.68 205.15,178.60 204.31,178.57 203.49,178.60 202.67,178.68 201.87,178.82 201.08,179.02 200.31,179.26 199.47,179.59 198.65,179.97 197.88,180.39 197.15,180.86 196.46,181.38 195.82,181.93 195.22,182.53 194.68,183.16 194.17,183.83 193.72,184.54 193.31,185.27 192.95,186.03 192.64,186.81 192.37,187.62 192.14,188.45 191.95,189.31 191.81,190.18 191.70,191.07 191.63,191.98 191.60,192.91 191.60,193.85 191.64,194.81 191.71,195.79 191.81,196.76 195.39,196.44 195.33,195.53 195.29,194.67 195.29,193.83 195.31,193.03 195.37,192.25 195.45,191.50 195.56,190.78 195.71,190.09 195.88,189.44 196.07,188.82 196.30,188.23 196.55,187.67 196.82,187.15 197.12,186.66 197.45,186.20 197.80,185.77 198.18,185.37 198.58,185.00 199.01,184.66 199.48,184.34 199.97,184.05 200.50,183.78 201.07,183.55 201.69,183.34 202.19,183.20 202.69,183.10 203.20,183.04 203.72,183.01 204.24,183.01 204.76,183.05 205.28,183.13 205.80,183.25 206.33,183.40 206.85,183.60 207.36,183.83 207.88,184.11 208.38,184.43 208.88,184.79 209.37,185.21 209.85,185.67 210.33,186.18 210.78,186.74 211.23,187.36 211.65,188.03 212.06,188.76 212.45,189.56 212.81,190.41 213.16,191.39" fill="url(#ao1)"/>
<polygon points="216.57,190.09 216.16,189.04 215.71,188.02 215.21,187.06 214.69,186.16 214.13,185.32 213.54,184.55 212.92,183.83 212.28,183.17 211.62,182.58 210.94,182.04 210.23,181.56 209.52,181.14 208.79,180.78 208.05,180.47 207.30,180.22 206.55,180.02 205.80,179.89 205.04,179.80 204.29,179.77 203.55,179.79 202.81,179.86 202.09,179.98 201.38,180.15 200.68,180.36 199.90,180.66 199.15,181.00 198.45,181.38 197.78,181.80 197.15,182.26 196.57,182.76 196.02,183.30 195.52,183.87 195.06,184.47 194.64,185.11 194.26,185.78 193.92,186.47 193.63,187.20 193.37,187.95 193.15,188.72 192.97,189.52 192.82,190.34 192.71,191.19 192.64,192.05 192.60,192.94 192.59,193.85 192.62,194.77 192.68,195.72 192.78,196.67 195.36,196.44 195.29,195.53 195.25,194.67 195.25,193.83 195.27,193.03 195.33,192.25 195.41,191.50 195.53,190.78 195.67,190.09 195.84,189.43 196.04,188.81 196.26,188.21 196.51,187.65 196.79,187.13 197.09,186.64 197.42,186.17 197.77,185.74 198.15,185.34 198.55,184.97 198.99,184.62 199.45,184.30 199.95,184.01 200.48,183.75 201.06,183.51 201.67,183.30 202.18,183.16 202.68,183.06 203.19,182.99 203.71,182.96 204.24,182.97 204.76,183.01 205.29,183.09 205.81,183.21 206.34,183.36 206.86,183.56 207.38,183.79 207.90,184.07 208.41,184.39 208.91,184.76 209.40,185.17 209.89,185.63 210.36,186.14 210.82,186.71 211.27,187.33 211.70,188.01 212.10,188.74 212.49,189.54 212.85,190.39 213.21,191.37" fill="url(#ai1)"/>
<polygon points="189.81,196.88 194.00,201.99 197.39,196.32" fill="#56c8f4" stroke="#4aa8e8" stroke-width="0.4"/>
<defs><linearGradient id="ao2" gradientUnits="userSpaceOnUse" x1="247" y1="170" x2="224" y2="184"><stop offset="0" stop-color="#3a7cd4"/><stop offset="1" stop-color="#4aa8e8"/></linearGradient><linearGradient id="ai2" gradientUnits="userSpaceOnUse" x1="247" y1="170" x2="224" y2="184"><stop offset="0" stop-color="#58c0f2"/><stop offset="1" stop-color="#56c8f4"/></linearGradient></defs>
<polygon points="248.70,171.82 248.20,170.91 247.62,170.00 247.00,169.14 246.35,168.34 245.65,167.59 244.93,166.91 244.17,166.28 243.39,165.71 242.59,165.21 241.77,164.75 240.93,164.36 240.07,164.02 239.21,163.74 238.34,163.52 237.46,163.35 236.58,163.23 235.70,163.17 234.82,163.16 233.95,163.20 233.09,163.29 232.23,163.43 231.39,163.62 230.56,163.85 229.70,164.15 228.82,164.55 228.01,165.00 227.25,165.49 226.54,166.04 225.89,166.62 225.29,167.24 224.75,167.90 224.27,168.59 223.84,169.31 223.47,170.05 223.16,170.80 222.90,171.58 222.69,172.37 222.53,173.17 222.42,173.97 222.36,174.78 222.34,175.60 222.37,176.42 222.44,177.23 222.55,178.05 222.71,178.85 222.90,179.66 223.14,180.45 223.40,181.20 227.00,180.00 226.80,179.34 226.64,178.71 226.51,178.09 226.41,177.47 226.35,176.85 226.31,176.23 226.31,175.63 226.35,175.04 226.41,174.46 226.51,173.90 226.64,173.35 226.80,172.82 227.00,172.31 227.22,171.83 227.48,171.36 227.76,170.92 228.08,170.50 228.43,170.11 228.81,169.74 229.23,169.39 229.69,169.06 230.19,168.76 230.73,168.49 231.30,168.25 231.83,168.09 232.42,167.94 233.01,167.83 233.62,167.76 234.22,167.72 234.83,167.71 235.44,167.74 236.05,167.80 236.65,167.90 237.25,168.04 237.84,168.22 238.43,168.43 239.00,168.67 239.56,168.96 240.11,169.28 240.64,169.65 241.16,170.05 241.67,170.50 242.15,170.98 242.62,171.52 243.06,172.09 243.49,172.72 243.89,173.39 244.30,174.18" fill="url(#ao2)"/>
<polygon points="247.51,172.46 247.04,171.58 246.51,170.73 245.94,169.94 245.34,169.20 244.71,168.51 244.05,167.88 243.36,167.30 242.65,166.78 241.92,166.31 241.17,165.89 240.41,165.53 239.63,165.21 238.84,164.95 238.04,164.74 237.24,164.58 236.44,164.47 235.63,164.40 234.83,164.39 234.03,164.42 233.23,164.50 232.44,164.62 231.67,164.78 230.90,164.99 230.13,165.26 229.34,165.62 228.60,166.02 227.91,166.46 227.27,166.94 226.68,167.46 226.14,168.02 225.65,168.60 225.21,169.22 224.82,169.86 224.48,170.53 224.19,171.21 223.95,171.91 223.75,172.63 223.60,173.36 223.50,174.10 223.43,174.85 223.41,175.61 223.43,176.37 223.49,177.13 223.59,177.89 223.73,178.65 223.91,179.40 224.13,180.15 224.37,180.87 226.97,180.02 226.76,179.35 226.60,178.72 226.47,178.10 226.37,177.47 226.31,176.85 226.27,176.24 226.27,175.63 226.31,175.04 226.37,174.45 226.47,173.89 226.60,173.34 226.76,172.81 226.96,172.30 227.18,171.81 227.44,171.34 227.73,170.90 228.05,170.48 228.40,170.08 228.78,169.70 229.21,169.35 229.67,169.03 230.17,168.72 230.71,168.45 231.28,168.21 231.82,168.05 232.41,167.90 233.01,167.79 233.61,167.71 234.22,167.67 234.83,167.66 235.44,167.69 236.05,167.76 236.66,167.86 237.26,168.00 237.86,168.17 238.44,168.38 239.02,168.63 239.58,168.92 240.13,169.24 240.67,169.61 241.19,170.01 241.70,170.46 242.19,170.95 242.65,171.48 243.10,172.06 243.53,172.69 243.93,173.37 244.34,174.16" fill="url(#ai2)"/>
<polygon points="220.99,181.88 227.06,186.72 229.41,179.32" fill="#56c8f4" stroke="#4aa8e8" stroke-width="0.4"/>
<defs><linearGradient id="ao3" gradientUnits="userSpaceOnUse" x1="296" y1="165" x2="267" y2="174"><stop offset="0" stop-color="#3a7cd4"/><stop offset="1" stop-color="#4aa8e8"/></linearGradient><linearGradient id="ai3" gradientUnits="userSpaceOnUse" x1="296" y1="165" x2="267" y2="174"><stop offset="0" stop-color="#58c0f2"/><stop offset="1" stop-color="#56c8f4"/></linearGradient></defs>
<polygon points="298.09,166.20 297.62,165.15 297.07,164.08 296.47,163.07 295.83,162.11 295.15,161.21 294.42,160.36 293.66,159.56 292.86,158.83 292.03,158.15 291.18,157.53 290.29,156.97 289.38,156.46 288.45,156.02 287.50,155.63 286.54,155.30 285.56,155.03 284.57,154.83 283.57,154.68 282.57,154.58 281.56,154.55 280.55,154.57 279.55,154.66 278.55,154.80 277.51,155.01 276.40,155.33 275.38,155.69 274.40,156.10 273.48,156.55 272.60,157.04 271.78,157.58 271.02,158.16 270.31,158.78 269.65,159.43 269.04,160.12 268.50,160.85 268.01,161.60 267.57,162.37 267.18,163.17 266.85,163.99 266.57,164.83 266.34,165.68 266.16,166.55 266.03,167.43 265.94,168.32 265.90,169.22 265.89,170.13 265.93,171.04 266.00,171.92 269.60,171.68 269.56,170.87 269.55,170.12 269.58,169.38 269.64,168.66 269.74,167.96 269.87,167.28 270.03,166.62 270.23,165.99 270.46,165.38 270.72,164.80 271.01,164.24 271.34,163.70 271.71,163.19 272.11,162.71 272.55,162.24 273.03,161.80 273.55,161.38 274.11,160.99 274.72,160.62 275.37,160.28 276.08,159.96 276.84,159.67 277.65,159.41 278.49,159.19 279.21,159.08 279.97,159.00 280.73,158.96 281.48,158.97 282.23,159.02 282.97,159.11 283.70,159.25 284.43,159.42 285.14,159.65 285.84,159.91 286.52,160.22 287.19,160.56 287.84,160.95 288.48,161.39 289.09,161.86 289.68,162.38 290.25,162.94 290.80,163.55 291.32,164.20 291.81,164.89 292.28,165.63 292.71,166.42 293.11,167.25 293.51,168.20" fill="url(#ao3)"/>
<polygon points="296.85,166.74 296.40,165.72 295.89,164.71 295.34,163.76 294.75,162.86 294.11,162.01 293.44,161.22 292.74,160.48 292.01,159.79 291.24,159.15 290.45,158.57 289.63,158.04 288.79,157.57 287.93,157.15 287.05,156.79 286.16,156.48 285.25,156.22 284.34,156.02 283.41,155.87 282.48,155.78 281.54,155.74 280.60,155.76 279.66,155.83 278.72,155.95 277.78,156.14 276.74,156.43 275.77,156.76 274.85,157.14 273.99,157.55 273.17,158.01 272.41,158.50 271.70,159.03 271.04,159.59 270.43,160.19 269.87,160.82 269.36,161.48 268.91,162.16 268.50,162.88 268.14,163.61 267.83,164.37 267.56,165.14 267.34,165.94 267.16,166.75 267.03,167.57 266.94,168.41 266.89,169.26 266.88,170.12 266.91,170.99 266.97,171.86 269.56,171.68 269.52,170.87 269.51,170.12 269.54,169.38 269.61,168.65 269.70,167.95 269.83,167.27 269.99,166.62 270.19,165.98 270.42,165.37 270.68,164.78 270.98,164.22 271.31,163.68 271.68,163.17 272.08,162.68 272.52,162.21 273.00,161.77 273.52,161.35 274.09,160.95 274.70,160.58 275.35,160.24 276.06,159.92 276.82,159.63 277.64,159.37 278.48,159.15 279.20,159.03 279.96,158.95 280.72,158.92 281.48,158.92 282.23,158.97 282.98,159.07 283.71,159.20 284.44,159.38 285.15,159.60 285.85,159.87 286.54,160.17 287.21,160.52 287.87,160.91 288.51,161.35 289.12,161.82 289.72,162.34 290.29,162.91 290.84,163.51 291.36,164.17 291.85,164.86 292.32,165.60 292.76,166.39 293.16,167.23 293.55,168.18" fill="url(#ai3)"/>
<polygon points="263.80,171.99 268.00,176.20 271.80,171.61" fill="#56c8f4" stroke="#4aa8e8" stroke-width="0.4"/>
<defs><linearGradient id="ao4" gradientUnits="userSpaceOnUse" x1="270" y1="240" x2="298" y2="226"><stop offset="0" stop-color="#c4a24c"/><stop offset="1" stop-color="#d4b04a"/></linearGradient><linearGradient id="ai4" gradientUnits="userSpaceOnUse" x1="270" y1="240" x2="298" y2="226"><stop offset="0" stop-color="#eed88e"/><stop offset="1" stop-color="#f4d66e"/></linearGradient></defs>
<polygon points="272.39,240.03 272.18,238.32 272.03,236.71 271.93,235.18 271.89,233.72 271.90,232.35 271.96,231.04 272.06,229.82 272.21,228.68 272.41,227.61 272.64,226.62 272.91,225.70 273.22,224.87 273.56,224.11 273.93,223.42 274.33,222.80 274.75,222.26 275.20,221.77 275.67,221.35 276.17,220.97 276.70,220.66 277.27,220.39 277.87,220.17 278.51,220.00 279.22,219.89 279.98,219.81 280.74,219.77 281.48,219.75 282.20,219.77 282.91,219.82 283.60,219.90 284.27,220.00 284.92,220.13 285.57,220.29 286.20,220.47 286.82,220.67 287.42,220.90 288.02,221.14 288.60,221.41 289.18,221.70 289.74,222.00 290.30,222.33 290.84,222.67 291.38,223.02 291.90,223.39 292.42,223.77 292.93,224.17 293.44,224.57 293.94,225.00 296.06,222.60 295.55,222.13 295.02,221.66 294.48,221.19 293.92,220.74 293.34,220.29 292.75,219.86 292.14,219.43 291.52,219.03 290.87,218.64 290.21,218.26 289.53,217.91 288.83,217.58 288.10,217.27 287.36,216.99 286.60,216.73 285.82,216.51 285.01,216.31 284.19,216.14 283.34,216.01 282.47,215.92 281.59,215.86 280.68,215.83 279.75,215.85 278.78,215.91 277.77,216.04 276.77,216.26 275.79,216.56 274.85,216.96 273.95,217.45 273.10,218.02 272.30,218.68 271.56,219.43 270.87,220.24 270.25,221.14 269.68,222.10 269.18,223.13 268.73,224.23 268.35,225.39 268.02,226.62 267.74,227.91 267.53,229.27 267.37,230.69 267.27,232.17 267.22,233.72 267.23,235.34 267.30,237.03 267.43,238.78 267.61,240.57" fill="url(#ao4)"/>
<polygon points="271.10,240.18 270.90,238.44 270.75,236.80 270.66,235.22 270.63,233.72 270.65,232.30 270.72,230.95 270.84,229.67 271.01,228.47 271.22,227.34 271.48,226.29 271.78,225.31 272.13,224.40 272.51,223.57 272.94,222.80 273.40,222.11 273.89,221.49 274.42,220.94 274.98,220.45 275.57,220.02 276.20,219.66 276.87,219.36 277.57,219.11 278.31,218.93 279.10,218.81 279.92,218.74 280.72,218.70 281.51,218.70 282.28,218.73 283.02,218.79 283.75,218.88 284.47,219.00 285.17,219.15 285.85,219.33 286.51,219.53 287.16,219.75 287.80,220.00 288.43,220.27 289.04,220.56 289.64,220.87 290.22,221.20 290.79,221.55 291.36,221.91 291.91,222.28 292.45,222.67 292.98,223.08 293.50,223.49 294.01,223.92 294.51,224.35 296.04,222.63 295.53,222.16 295.00,221.68 294.46,221.22 293.90,220.76 293.33,220.32 292.73,219.88 292.13,219.46 291.50,219.06 290.86,218.67 290.19,218.30 289.51,217.94 288.81,217.61 288.09,217.31 287.35,217.02 286.59,216.77 285.81,216.54 285.00,216.35 284.18,216.18 283.34,216.05 282.47,215.95 281.58,215.89 280.68,215.87 279.75,215.89 278.78,215.95 277.78,216.08 276.78,216.30 275.81,216.60 274.87,217.00 273.98,217.48 273.13,218.06 272.33,218.71 271.59,219.45 270.91,220.27 270.29,221.16 269.72,222.12 269.22,223.15 268.77,224.24 268.39,225.40 268.06,226.63 267.79,227.92 267.57,229.27 267.42,230.69 267.31,232.17 267.27,233.72 267.28,235.34 267.35,237.02 267.48,238.78 267.66,240.56" fill="url(#ai4)"/>
<polygon points="292.05,227.20 298.93,227.21 297.95,220.40" fill="#f4d66e" stroke="#d4b04a" stroke-width="0.4"/>
<defs><linearGradient id="ao5" gradientUnits="userSpaceOnUse" x1="312" y1="229" x2="340" y2="214"><stop offset="0" stop-color="#c4a24c"/><stop offset="1" stop-color="#d4b04a"/></linearGradient><linearGradient id="ai5" gradientUnits="userSpaceOnUse" x1="312" y1="229" x2="340" y2="214"><stop offset="0" stop-color="#eed88e"/><stop offset="1" stop-color="#f4d66e"/></linearGradient></defs>
<polygon points="314.79,228.87 314.61,227.17 314.48,225.58 314.42,224.05 314.41,222.59 314.45,221.20 314.54,219.88 314.69,218.63 314.88,217.45 315.12,216.35 315.40,215.33 315.72,214.38 316.08,213.51 316.48,212.72 316.91,212.01 317.37,211.37 317.86,210.80 318.37,210.30 318.92,209.87 319.49,209.51 320.11,209.20 320.76,208.96 321.46,208.77 322.20,208.65 323.03,208.60 323.79,208.60 324.54,208.62 325.27,208.67 325.97,208.75 326.64,208.85 327.28,208.97 327.90,209.11 328.49,209.27 329.06,209.44 329.60,209.64 330.13,209.85 330.63,210.08 331.12,210.32 331.58,210.57 332.03,210.84 332.46,211.12 332.88,211.41 333.28,211.71 333.67,212.01 334.04,212.33 334.39,212.65 334.74,212.98 335.07,213.31 335.40,213.66 337.80,211.54 337.46,211.14 337.10,210.72 336.72,210.31 336.32,209.90 335.89,209.49 335.45,209.09 334.98,208.69 334.48,208.30 333.97,207.93 333.43,207.56 332.86,207.21 332.27,206.87 331.65,206.55 331.00,206.25 330.33,205.97 329.63,205.71 328.90,205.48 328.15,205.27 327.36,205.08 326.55,204.92 325.70,204.80 324.83,204.70 323.93,204.63 322.97,204.60 321.84,204.64 320.71,204.77 319.61,205.02 318.55,205.37 317.53,205.83 316.57,206.39 315.67,207.05 314.82,207.80 314.05,208.64 313.34,209.55 312.69,210.55 312.12,211.61 311.60,212.75 311.15,213.95 310.76,215.22 310.44,216.55 310.17,217.94 309.97,219.39 309.83,220.91 309.74,222.48 309.72,224.12 309.76,225.81 309.85,227.56 310.01,229.33" fill="url(#ao5)"/>
<polygon points="313.50,228.99 313.32,227.28 313.21,225.64 313.15,224.07 313.15,222.56 313.20,221.12 313.31,219.75 313.47,218.44 313.68,217.21 313.94,216.05 314.25,214.96 314.61,213.94 315.01,213.00 315.46,212.13 315.95,211.34 316.47,210.63 317.04,209.99 317.64,209.43 318.28,208.93 318.96,208.51 319.68,208.17 320.45,207.89 321.25,207.69 322.10,207.57 323.01,207.52 323.83,207.53 324.62,207.56 325.39,207.63 326.12,207.72 326.83,207.83 327.51,207.97 328.17,208.13 328.80,208.31 329.40,208.51 329.98,208.72 330.54,208.96 331.07,209.21 331.59,209.48 332.08,209.76 332.55,210.05 333.01,210.36 333.45,210.67 333.86,211.00 334.27,211.33 334.65,211.67 335.02,212.02 335.38,212.37 335.72,212.73 336.05,213.09 337.77,211.56 337.44,211.16 337.08,210.75 336.69,210.33 336.29,209.92 335.87,209.51 335.42,209.11 334.96,208.72 334.46,208.33 333.95,207.95 333.41,207.59 332.84,207.24 332.25,206.90 331.63,206.59 330.99,206.29 330.32,206.01 329.62,205.75 328.89,205.51 328.14,205.30 327.35,205.12 326.54,204.96 325.70,204.84 324.83,204.74 323.93,204.67 322.97,204.64 321.84,204.68 320.71,204.81 319.62,205.06 318.56,205.41 317.55,205.87 316.59,206.43 315.69,207.08 314.85,207.83 314.08,208.66 313.37,209.58 312.73,210.57 312.16,211.63 311.64,212.76 311.19,213.96 310.81,215.23 310.48,216.56 310.22,217.95 310.01,219.40 309.87,220.91 309.79,222.49 309.77,224.12 309.80,225.81 309.90,227.56 310.06,229.33" fill="url(#ai5)"/>
<polygon points="333.12,215.76 339.96,216.30 340.08,209.44" fill="#f4d66e" stroke="#d4b04a" stroke-width="0.4"/>
<defs><linearGradient id="ao6" gradientUnits="userSpaceOnUse" x1="352" y1="217" x2="368" y2="202"><stop offset="0" stop-color="#c4a24c"/><stop offset="1" stop-color="#d4b04a"/></linearGradient><linearGradient id="ai6" gradientUnits="userSpaceOnUse" x1="352" y1="217" x2="368" y2="202"><stop offset="0" stop-color="#eed88e"/><stop offset="1" stop-color="#f4d66e"/></linearGradient></defs>
<polygon points="354.43,216.01 353.94,214.83 353.52,213.72 353.18,212.65 352.89,211.61 352.66,210.61 352.49,209.64 352.38,208.72 352.33,207.85 352.33,207.01 352.38,206.23 352.48,205.50 352.64,204.82 352.83,204.19 353.07,203.61 353.36,203.07 353.68,202.58 354.05,202.13 354.47,201.72 354.94,201.35 355.47,201.01 356.07,200.71 356.73,200.45 357.46,200.24 358.29,200.08 358.70,200.03 359.17,199.98 359.61,199.96 360.03,199.95 360.44,199.95 360.83,199.97 361.21,200.01 361.57,200.05 361.91,200.11 362.24,200.18 362.55,200.26 362.86,200.35 363.15,200.45 363.43,200.55 363.70,200.67 363.95,200.79 364.20,200.91 364.44,201.05 364.67,201.18 364.88,201.33 365.09,201.47 365.29,201.62 365.49,201.78 365.69,201.95 367.91,199.65 367.70,199.42 367.46,199.18 367.20,198.93 366.93,198.69 366.64,198.45 366.33,198.22 366.00,197.99 365.66,197.77 365.30,197.56 364.92,197.35 364.53,197.16 364.12,196.98 363.69,196.81 363.24,196.65 362.77,196.51 362.29,196.39 361.78,196.29 361.26,196.20 360.73,196.13 360.17,196.08 359.60,196.06 359.01,196.05 358.40,196.07 357.71,196.12 356.60,196.30 355.52,196.57 354.49,196.92 353.53,197.36 352.62,197.89 351.78,198.50 351.02,199.18 350.33,199.94 349.73,200.77 349.20,201.66 348.77,202.60 348.41,203.58 348.14,204.61 347.95,205.67 347.83,206.77 347.79,207.90 347.82,209.05 347.93,210.24 348.10,211.45 348.34,212.68 348.66,213.94 349.03,215.22 349.48,216.52 349.97,217.79" fill="url(#ao6)"/>
<polygon points="353.22,216.49 352.73,215.29 352.31,214.13 351.95,213.00 351.66,211.90 351.43,210.83 351.26,209.80 351.15,208.81 351.10,207.86 351.11,206.95 351.18,206.08 351.31,205.26 351.50,204.48 351.74,203.76 352.03,203.08 352.38,202.45 352.78,201.87 353.23,201.34 353.75,200.85 354.32,200.41 354.95,200.03 355.64,199.69 356.40,199.40 357.23,199.18 358.13,199.01 358.62,198.96 359.12,198.92 359.61,198.90 360.07,198.90 360.52,198.92 360.95,198.95 361.36,199.00 361.76,199.06 362.14,199.14 362.51,199.23 362.86,199.33 363.20,199.44 363.52,199.56 363.83,199.69 364.13,199.83 364.41,199.97 364.69,200.12 364.95,200.28 365.20,200.45 365.44,200.62 365.66,200.79 365.88,200.96 366.08,201.14 366.29,201.33 367.89,199.68 367.68,199.45 367.44,199.20 367.18,198.96 366.91,198.72 366.62,198.48 366.31,198.25 365.99,198.02 365.64,197.80 365.29,197.59 364.91,197.38 364.52,197.19 364.10,197.01 363.68,196.84 363.23,196.69 362.76,196.55 362.28,196.43 361.78,196.32 361.26,196.24 360.72,196.17 360.17,196.12 359.60,196.10 359.01,196.09 358.41,196.11 357.71,196.16 356.61,196.34 355.53,196.61 354.51,196.96 353.55,197.40 352.64,197.92 351.81,198.53 351.05,199.21 350.36,199.97 349.76,200.79 349.24,201.68 348.81,202.61 348.46,203.59 348.19,204.62 347.99,205.68 347.88,206.77 347.84,207.90 347.87,209.05 347.97,210.23 348.15,211.44 348.39,212.67 348.70,213.93 349.08,215.20 349.52,216.50 350.02,217.78" fill="url(#ai6)"/>
<polygon points="364.06,203.71 369.86,203.68 369.54,197.89" fill="#f4d66e" stroke="#d4b04a" stroke-width="0.4"/>
<circle cx="197.6" cy="185.4" r="2.3" fill="#ee3040" opacity="0.92"/>
<text x="199.6" y="183.6" font-size="4.4" font-weight="bold" fill="#ee3040">-</text>
<text x="229.9" y="172.7" font-size="7.6" font-weight="bold" fill="#ee2a3a">e<tspan font-size="4.2" dy="-3.4">-</tspan></text>
<text x="277.0" y="163.8" font-size="7.6" font-weight="bold" fill="#ee2a3a">e<tspan font-size="4.2" dy="-3.4">-</tspan></text>
<text x="259.2" y="188.7" font-size="7.6" font-weight="bold" fill="#ee2a3a">e<tspan font-size="4.2" dy="-3.4">-</tspan></text>
<text x="283.6" y="212.9" font-size="7.6" font-weight="bold" fill="#ee2a3a">h<tspan font-size="4.2" dy="-3.4">+</tspan></text>
<text x="320.1" y="202.7" font-size="7.6" font-weight="bold" fill="#ee2a3a">h<tspan font-size="4.2" dy="-3.4">+</tspan></text>
<text x="346.6" y="198.0" font-size="7.6" font-weight="bold" fill="#ee2a3a">h<tspan font-size="4.2" dy="-3.4">+</tspan></text>
<text x="260.5" y="247.0" font-size="7.6" font-weight="bold" fill="#ee2a3a">h<tspan font-size="4.2" dy="-3.4">+</tspan></text>
</svg></body></html>
